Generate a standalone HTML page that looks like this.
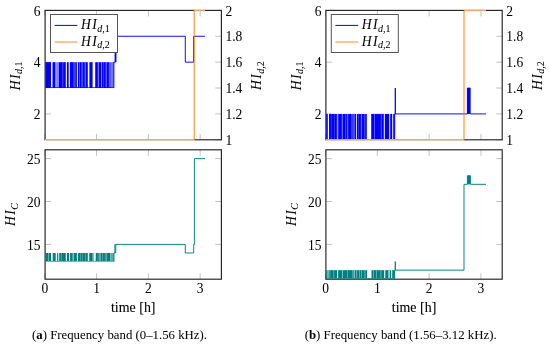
<!DOCTYPE html>
<html><head><meta charset="utf-8"><title>figure</title>
<style>
html,body{margin:0;padding:0;background:#fff;width:550px;height:345px;overflow:hidden;}
svg{display:block;}

text{font-family:"Liberation Serif",serif;fill:#000;stroke:#000;stroke-width:0.02px;}
.t{font-size:13.5px;}
.m{font-size:13.6px;font-style:italic;stroke-width:0.04px;}
.s{font-size:10px;}
.r{font-style:normal;}
.c{font-size:12.5px;stroke-width:0.02px;}
</style></head>
<body>
<div id="w"><svg width="550" height="345" viewBox="0 0 550 345">
<rect width="550" height="345" fill="#fff"/>
<line x1="44.75" y1="139.80" x2="44.75" y2="133.80" stroke="#000" stroke-width="0.45" stroke-opacity="0.55"/><line x1="44.75" y1="10.40" x2="44.75" y2="16.40" stroke="#000" stroke-width="0.45" stroke-opacity="0.55"/><line x1="96.55" y1="139.80" x2="96.55" y2="133.80" stroke="#000" stroke-width="0.45" stroke-opacity="0.55"/><line x1="96.55" y1="10.40" x2="96.55" y2="16.40" stroke="#000" stroke-width="0.45" stroke-opacity="0.55"/><line x1="148.35" y1="139.80" x2="148.35" y2="133.80" stroke="#000" stroke-width="0.45" stroke-opacity="0.55"/><line x1="148.35" y1="10.40" x2="148.35" y2="16.40" stroke="#000" stroke-width="0.45" stroke-opacity="0.55"/><line x1="200.15" y1="139.80" x2="200.15" y2="133.80" stroke="#000" stroke-width="0.45" stroke-opacity="0.55"/><line x1="200.15" y1="10.40" x2="200.15" y2="16.40" stroke="#000" stroke-width="0.45" stroke-opacity="0.55"/><line x1="45.10" y1="113.92" x2="51.10" y2="113.92" stroke="#000" stroke-width="0.45" stroke-opacity="0.55"/><line x1="45.10" y1="62.16" x2="51.10" y2="62.16" stroke="#000" stroke-width="0.45" stroke-opacity="0.55"/><line x1="45.10" y1="10.40" x2="51.10" y2="10.40" stroke="#000" stroke-width="0.45" stroke-opacity="0.55"/><line x1="221.40" y1="139.80" x2="215.40" y2="139.80" stroke="#000" stroke-width="0.45" stroke-opacity="0.55"/><line x1="221.40" y1="113.92" x2="215.40" y2="113.92" stroke="#000" stroke-width="0.45" stroke-opacity="0.55"/><line x1="221.40" y1="88.04" x2="215.40" y2="88.04" stroke="#000" stroke-width="0.45" stroke-opacity="0.55"/><line x1="221.40" y1="62.16" x2="215.40" y2="62.16" stroke="#000" stroke-width="0.45" stroke-opacity="0.55"/><line x1="221.40" y1="36.28" x2="215.40" y2="36.28" stroke="#000" stroke-width="0.45" stroke-opacity="0.55"/><line x1="221.40" y1="10.40" x2="215.40" y2="10.40" stroke="#000" stroke-width="0.45" stroke-opacity="0.55"/><line x1="44.75" y1="279.20" x2="44.75" y2="273.20" stroke="#000" stroke-width="0.45" stroke-opacity="0.55"/><line x1="44.75" y1="149.80" x2="44.75" y2="155.80" stroke="#000" stroke-width="0.45" stroke-opacity="0.55"/><line x1="96.55" y1="279.20" x2="96.55" y2="273.20" stroke="#000" stroke-width="0.45" stroke-opacity="0.55"/><line x1="96.55" y1="149.80" x2="96.55" y2="155.80" stroke="#000" stroke-width="0.45" stroke-opacity="0.55"/><line x1="148.35" y1="279.20" x2="148.35" y2="273.20" stroke="#000" stroke-width="0.45" stroke-opacity="0.55"/><line x1="148.35" y1="149.80" x2="148.35" y2="155.80" stroke="#000" stroke-width="0.45" stroke-opacity="0.55"/><line x1="200.15" y1="279.20" x2="200.15" y2="273.20" stroke="#000" stroke-width="0.45" stroke-opacity="0.55"/><line x1="200.15" y1="149.80" x2="200.15" y2="155.80" stroke="#000" stroke-width="0.45" stroke-opacity="0.55"/><line x1="45.10" y1="244.40" x2="51.10" y2="244.40" stroke="#000" stroke-width="0.45" stroke-opacity="0.55"/><line x1="221.40" y1="244.40" x2="215.40" y2="244.40" stroke="#000" stroke-width="0.45" stroke-opacity="0.55"/><line x1="45.10" y1="201.50" x2="51.10" y2="201.50" stroke="#000" stroke-width="0.45" stroke-opacity="0.55"/><line x1="221.40" y1="201.50" x2="215.40" y2="201.50" stroke="#000" stroke-width="0.45" stroke-opacity="0.55"/><line x1="45.10" y1="158.60" x2="51.10" y2="158.60" stroke="#000" stroke-width="0.45" stroke-opacity="0.55"/><line x1="221.40" y1="158.60" x2="215.40" y2="158.60" stroke="#000" stroke-width="0.45" stroke-opacity="0.55"/><rect x="45.10" y="10.40" width="176.30" height="129.40" fill="none" stroke="#222" stroke-width="1.15"/><rect x="45.10" y="149.80" width="176.30" height="129.40" fill="none" stroke="#222" stroke-width="1.15"/><rect x="45.40" y="62.16" width="68.50" height="25.88" fill="#0000ff" /><rect x="51.00" y="61.56" width="1.50" height="25.78" fill="#fff" fill-opacity="1"/><rect x="55.50" y="61.56" width="1.10" height="25.78" fill="#fff" fill-opacity="1"/><rect x="57.50" y="61.56" width="1.00" height="25.78" fill="#fff" fill-opacity="1"/><rect x="62.30" y="61.56" width="1.00" height="25.78" fill="#fff" fill-opacity="0.3"/><rect x="65.80" y="61.56" width="1.10" height="25.78" fill="#fff" fill-opacity="1"/><rect x="68.70" y="61.56" width="1.20" height="25.78" fill="#fff" fill-opacity="1"/><rect x="73.20" y="61.56" width="2.60" height="25.78" fill="#fff" fill-opacity="0.25"/><rect x="76.90" y="61.56" width="1.00" height="25.78" fill="#fff" fill-opacity="1"/><rect x="79.00" y="61.56" width="0.70" height="25.78" fill="#fff" fill-opacity="0.5"/><rect x="81.60" y="61.56" width="1.00" height="25.78" fill="#fff" fill-opacity="0.5"/><rect x="84.70" y="61.56" width="1.00" height="25.78" fill="#fff" fill-opacity="0.5"/><rect x="87.80" y="61.56" width="1.60" height="25.78" fill="#fff" fill-opacity="1"/><rect x="92.60" y="61.56" width="2.60" height="25.78" fill="#fff" fill-opacity="1"/><rect x="97.80" y="61.56" width="1.10" height="25.78" fill="#fff" fill-opacity="0.5"/><rect x="101.00" y="61.56" width="1.00" height="25.78" fill="#fff" fill-opacity="0.5"/><rect x="103.00" y="61.56" width="0.60" height="25.78" fill="#fff" fill-opacity="0.35"/><rect x="105.70" y="61.56" width="1.00" height="25.78" fill="#fff" fill-opacity="0.5"/><rect x="108.80" y="61.56" width="1.60" height="25.78" fill="#fff" fill-opacity="0.35"/><rect x="110.40" y="61.56" width="3.50" height="25.78" fill="#fff" fill-opacity="0.45"/><rect x="114.2" y="36.28" width="2.6" height="25.88" fill="#0000ff" fill-opacity="0.55"/><path d="M113.9 88.04 V62.16 H115.5 V36.28 H185.3 V62.16 H193.6 V36.28 H204.9" stroke="#0000ff" stroke-width="0.95" fill="none" stroke-linejoin="miter"/><path d="M45.10 139.80 H194.2" stroke="#fff" stroke-width="1.8"/><path d="M45.10 139.80 H194.2" stroke="#e8a870" stroke-width="1.5"/><path d="M194.2 10.40 H205.0" stroke="#fff" stroke-width="1.8"/><path d="M194.2 10.40 H205.0" stroke="#e8a870" stroke-width="1.5"/><path d="M194.2 139.80 V10.40" stroke="#ff8000" stroke-width="0.95" fill="none" stroke-linejoin="miter"/><rect x="45.40" y="252.98" width="68.60" height="8.58" fill="#008080" /><rect x="48.10" y="252.38" width="0.80" height="8.48" fill="#fff" fill-opacity="0.5"/><rect x="51.10" y="252.38" width="1.60" height="8.48" fill="#fff" fill-opacity="1"/><rect x="55.70" y="252.38" width="1.40" height="8.48" fill="#fff" fill-opacity="1"/><rect x="58.30" y="252.38" width="0.90" height="8.48" fill="#fff" fill-opacity="1"/><rect x="60.90" y="252.38" width="0.60" height="8.48" fill="#fff" fill-opacity="0.5"/><rect x="65.80" y="252.38" width="1.10" height="8.48" fill="#fff" fill-opacity="1"/><rect x="69.00" y="252.38" width="1.10" height="8.48" fill="#fff" fill-opacity="1"/><rect x="72.50" y="252.38" width="1.40" height="8.48" fill="#fff" fill-opacity="0.55"/><rect x="76.90" y="252.38" width="1.10" height="8.48" fill="#fff" fill-opacity="1"/><rect x="80.20" y="252.38" width="0.50" height="8.48" fill="#fff" fill-opacity="0.5"/><rect x="82.40" y="252.38" width="0.50" height="8.48" fill="#fff" fill-opacity="0.5"/><rect x="85.10" y="252.38" width="0.50" height="8.48" fill="#fff" fill-opacity="0.5"/><rect x="87.80" y="252.38" width="1.40" height="8.48" fill="#fff" fill-opacity="1"/><rect x="92.50" y="252.38" width="0.50" height="8.48" fill="#fff" fill-opacity="0.5"/><rect x="93.50" y="252.38" width="2.20" height="8.48" fill="#fff" fill-opacity="1"/><rect x="97.80" y="252.38" width="0.50" height="8.48" fill="#fff" fill-opacity="0.5"/><rect x="99.00" y="252.38" width="0.40" height="8.48" fill="#fff" fill-opacity="0.8"/><rect x="99.90" y="252.38" width="0.80" height="8.48" fill="#fff" fill-opacity="0.5"/><rect x="102.30" y="252.38" width="0.50" height="8.48" fill="#fff" fill-opacity="0.6"/><rect x="104.90" y="252.38" width="0.50" height="8.48" fill="#fff" fill-opacity="0.6"/><rect x="106.40" y="252.38" width="0.60" height="8.48" fill="#fff" fill-opacity="0.6"/><rect x="110.10" y="252.38" width="1.00" height="8.48" fill="#fff" fill-opacity="0.5"/><rect x="111.10" y="252.38" width="2.90" height="8.48" fill="#fff" fill-opacity="0.35"/><rect x="114.2" y="244.40" width="2.3" height="8.58" fill="#008080" fill-opacity="0.5"/><path d="M114.0 261.56 V252.98 L115.2 252.98 V244.40 H185.3 V252.98 H193.7 V244.40 H194.4 V158.60 H205.0" stroke="#008080" stroke-width="0.95" fill="none" stroke-linejoin="miter"/><rect x="50.50" y="14.5" width="67.00" height="38.0" fill="#fff" stroke="#555" stroke-width="1.0"/><line x1="54.60" y1="25.4" x2="77.40" y2="25.4" stroke="#0000ff" stroke-width="1.0"/><line x1="54.60" y1="42.0" x2="77.40" y2="42.0" stroke="#ff8000" stroke-width="1.3" stroke-opacity="0.7"/><text x="81.00" y="29.2" class="m">H<tspan dx="1.3">I</tspan><tspan class="s" dx="0.6" dy="2.4">d</tspan><tspan class="s r">,1</tspan></text><text x="81.00" y="45.5" class="m">H<tspan dx="1.3">I</tspan><tspan class="s" dx="0.6" dy="2.4">d</tspan><tspan class="s r">,2</tspan></text><text transform="translate(40.60 119.02) scale(1 1.12)" text-anchor="end" class="t">2</text><text transform="translate(40.60 67.26) scale(1 1.12)" text-anchor="end" class="t">4</text><text transform="translate(40.60 15.50) scale(1 1.12)" text-anchor="end" class="t">6</text><text transform="translate(225.50 144.90) scale(1 1.12)" text-anchor="start" class="t">1</text><text transform="translate(225.50 119.02) scale(1 1.12)" text-anchor="start" class="t">1.2</text><text transform="translate(225.50 93.14) scale(1 1.12)" text-anchor="start" class="t">1.4</text><text transform="translate(225.50 67.26) scale(1 1.12)" text-anchor="start" class="t">1.6</text><text transform="translate(225.50 41.38) scale(1 1.12)" text-anchor="start" class="t">1.8</text><text transform="translate(225.50 15.50) scale(1 1.12)" text-anchor="start" class="t">2</text><text transform="translate(40.60 249.50) scale(1 1.12)" text-anchor="end" class="t">15</text><text transform="translate(40.60 206.60) scale(1 1.12)" text-anchor="end" class="t">20</text><text transform="translate(40.60 163.70) scale(1 1.12)" text-anchor="end" class="t">25</text><text transform="translate(44.75 293.40) scale(1 1.12)" text-anchor="middle" class="t">0</text><text transform="translate(96.55 293.40) scale(1 1.12)" text-anchor="middle" class="t">1</text><text transform="translate(148.35 293.40) scale(1 1.12)" text-anchor="middle" class="t">2</text><text transform="translate(200.15 293.40) scale(1 1.12)" text-anchor="middle" class="t">3</text><text x="133.25" y="311.7" text-anchor="middle" class="t" style="font-size:13.6px;stroke-width:0.1px" textLength="44.5" lengthAdjust="spacingAndGlyphs">time [h]</text><text transform="translate(19.80,75.80) rotate(-90)" text-anchor="middle" class="m">H<tspan dx="1.3">I</tspan><tspan class="s" dx="0.6" dy="2.4">d</tspan><tspan class="s r">,1</tspan></text><text transform="translate(261.20,75.60) rotate(-90)" text-anchor="middle" class="m">H<tspan dx="1.3">I</tspan><tspan class="s" dx="0.6" dy="2.4">d</tspan><tspan class="s r">,2</tspan></text><text transform="translate(15.20,214.50) rotate(-90)" text-anchor="middle" class="m">H<tspan dx="1.3">I</tspan><tspan class="s" dx="0.6" dy="2.4">C</tspan></text><line x1="325.55" y1="139.80" x2="325.55" y2="133.80" stroke="#000" stroke-width="0.45" stroke-opacity="0.55"/><line x1="325.55" y1="10.40" x2="325.55" y2="16.40" stroke="#000" stroke-width="0.45" stroke-opacity="0.55"/><line x1="377.35" y1="139.80" x2="377.35" y2="133.80" stroke="#000" stroke-width="0.45" stroke-opacity="0.55"/><line x1="377.35" y1="10.40" x2="377.35" y2="16.40" stroke="#000" stroke-width="0.45" stroke-opacity="0.55"/><line x1="429.15" y1="139.80" x2="429.15" y2="133.80" stroke="#000" stroke-width="0.45" stroke-opacity="0.55"/><line x1="429.15" y1="10.40" x2="429.15" y2="16.40" stroke="#000" stroke-width="0.45" stroke-opacity="0.55"/><line x1="480.95" y1="139.80" x2="480.95" y2="133.80" stroke="#000" stroke-width="0.45" stroke-opacity="0.55"/><line x1="480.95" y1="10.40" x2="480.95" y2="16.40" stroke="#000" stroke-width="0.45" stroke-opacity="0.55"/><line x1="325.90" y1="113.92" x2="331.90" y2="113.92" stroke="#000" stroke-width="0.45" stroke-opacity="0.55"/><line x1="325.90" y1="62.16" x2="331.90" y2="62.16" stroke="#000" stroke-width="0.45" stroke-opacity="0.55"/><line x1="325.90" y1="10.40" x2="331.90" y2="10.40" stroke="#000" stroke-width="0.45" stroke-opacity="0.55"/><line x1="502.20" y1="139.80" x2="496.20" y2="139.80" stroke="#000" stroke-width="0.45" stroke-opacity="0.55"/><line x1="502.20" y1="113.92" x2="496.20" y2="113.92" stroke="#000" stroke-width="0.45" stroke-opacity="0.55"/><line x1="502.20" y1="88.04" x2="496.20" y2="88.04" stroke="#000" stroke-width="0.45" stroke-opacity="0.55"/><line x1="502.20" y1="62.16" x2="496.20" y2="62.16" stroke="#000" stroke-width="0.45" stroke-opacity="0.55"/><line x1="502.20" y1="36.28" x2="496.20" y2="36.28" stroke="#000" stroke-width="0.45" stroke-opacity="0.55"/><line x1="502.20" y1="10.40" x2="496.20" y2="10.40" stroke="#000" stroke-width="0.45" stroke-opacity="0.55"/><line x1="325.55" y1="279.20" x2="325.55" y2="273.20" stroke="#000" stroke-width="0.45" stroke-opacity="0.55"/><line x1="325.55" y1="149.80" x2="325.55" y2="155.80" stroke="#000" stroke-width="0.45" stroke-opacity="0.55"/><line x1="377.35" y1="279.20" x2="377.35" y2="273.20" stroke="#000" stroke-width="0.45" stroke-opacity="0.55"/><line x1="377.35" y1="149.80" x2="377.35" y2="155.80" stroke="#000" stroke-width="0.45" stroke-opacity="0.55"/><line x1="429.15" y1="279.20" x2="429.15" y2="273.20" stroke="#000" stroke-width="0.45" stroke-opacity="0.55"/><line x1="429.15" y1="149.80" x2="429.15" y2="155.80" stroke="#000" stroke-width="0.45" stroke-opacity="0.55"/><line x1="480.95" y1="279.20" x2="480.95" y2="273.20" stroke="#000" stroke-width="0.45" stroke-opacity="0.55"/><line x1="480.95" y1="149.80" x2="480.95" y2="155.80" stroke="#000" stroke-width="0.45" stroke-opacity="0.55"/><line x1="325.90" y1="244.40" x2="331.90" y2="244.40" stroke="#000" stroke-width="0.45" stroke-opacity="0.55"/><line x1="502.20" y1="244.40" x2="496.20" y2="244.40" stroke="#000" stroke-width="0.45" stroke-opacity="0.55"/><line x1="325.90" y1="201.50" x2="331.90" y2="201.50" stroke="#000" stroke-width="0.45" stroke-opacity="0.55"/><line x1="502.20" y1="201.50" x2="496.20" y2="201.50" stroke="#000" stroke-width="0.45" stroke-opacity="0.55"/><line x1="325.90" y1="158.60" x2="331.90" y2="158.60" stroke="#000" stroke-width="0.45" stroke-opacity="0.55"/><line x1="502.20" y1="158.60" x2="496.20" y2="158.60" stroke="#000" stroke-width="0.45" stroke-opacity="0.55"/><rect x="325.90" y="10.40" width="176.30" height="129.40" fill="none" stroke="#222" stroke-width="1.15"/><rect x="325.90" y="149.80" width="176.30" height="129.40" fill="none" stroke="#222" stroke-width="1.15"/><rect x="326.20" y="113.92" width="68.50" height="25.88" fill="#0000ff" /><rect x="327.80" y="113.32" width="1.20" height="25.78" fill="#fff" fill-opacity="1"/><rect x="330.90" y="113.32" width="0.50" height="25.78" fill="#fff" fill-opacity="0.35"/><rect x="334.40" y="113.32" width="0.50" height="25.78" fill="#fff" fill-opacity="0.35"/><rect x="336.80" y="113.32" width="1.50" height="25.78" fill="#fff" fill-opacity="0.6"/><rect x="341.80" y="113.32" width="1.00" height="25.78" fill="#fff" fill-opacity="0.5"/><rect x="345.20" y="113.32" width="1.00" height="25.78" fill="#fff" fill-opacity="0.3"/><rect x="347.20" y="113.32" width="1.00" height="25.78" fill="#fff" fill-opacity="0.5"/><rect x="351.20" y="113.32" width="0.90" height="25.78" fill="#fff" fill-opacity="0.3"/><rect x="352.50" y="113.32" width="0.70" height="25.78" fill="#fff" fill-opacity="0.4"/><rect x="353.60" y="113.32" width="1.00" height="25.78" fill="#fff" fill-opacity="0.5"/><rect x="356.00" y="113.32" width="0.90" height="25.78" fill="#fff" fill-opacity="0.9"/><rect x="358.40" y="113.32" width="0.50" height="25.78" fill="#fff" fill-opacity="0.35"/><rect x="360.90" y="113.32" width="1.00" height="25.78" fill="#fff" fill-opacity="0.5"/><rect x="364.30" y="113.32" width="1.00" height="25.78" fill="#fff" fill-opacity="0.35"/><rect x="366.80" y="113.32" width="4.40" height="25.78" fill="#fff" fill-opacity="1"/><rect x="374.10" y="113.32" width="0.90" height="25.78" fill="#fff" fill-opacity="0.35"/><rect x="380.80" y="113.32" width="0.90" height="25.78" fill="#fff" fill-opacity="0.35"/><rect x="383.80" y="113.32" width="1.00" height="25.78" fill="#fff" fill-opacity="1"/><rect x="389.20" y="113.32" width="1.00" height="25.78" fill="#fff" fill-opacity="1"/><rect x="392.20" y="113.32" width="1.00" height="25.78" fill="#fff" fill-opacity="1"/><path d="M394.7 139.80 V113.92 H395.3 V88.04 V113.92 H467.4 V88.04 H470.2 V113.92 H486.1" stroke="#0000ff" stroke-width="0.95" fill="none" stroke-linejoin="miter"/><rect x="467.2" y="88.04" width="2.8" height="25.88" fill="#0000ff"/><path d="M325.90 139.80 H464.0" stroke="#fff" stroke-width="1.8"/><path d="M325.90 139.80 H464.0" stroke="#e8a870" stroke-width="1.5"/><path d="M464.0 10.40 H485.6" stroke="#fff" stroke-width="1.8"/><path d="M464.0 10.40 H485.6" stroke="#e8a870" stroke-width="1.5"/><path d="M464.0 139.80 V10.40" stroke="#ff8000" stroke-width="0.95" fill="none" stroke-linejoin="miter"/><rect x="326.20" y="270.14" width="68.50" height="8.58" fill="#008080" /><rect x="327.60" y="269.54" width="0.80" height="8.48" fill="#fff" fill-opacity="1"/><rect x="329.60" y="269.54" width="0.60" height="8.48" fill="#fff" fill-opacity="0.5"/><rect x="333.50" y="269.54" width="0.70" height="8.48" fill="#fff" fill-opacity="0.5"/><rect x="337.10" y="269.54" width="1.00" height="8.48" fill="#fff" fill-opacity="1"/><rect x="342.00" y="269.54" width="1.00" height="8.48" fill="#fff" fill-opacity="0.5"/><rect x="347.30" y="269.54" width="0.60" height="8.48" fill="#fff" fill-opacity="0.5"/><rect x="352.50" y="269.54" width="0.60" height="8.48" fill="#fff" fill-opacity="0.5"/><rect x="353.80" y="269.54" width="0.70" height="8.48" fill="#fff" fill-opacity="1"/><rect x="356.40" y="269.54" width="0.70" height="8.48" fill="#fff" fill-opacity="0.6"/><rect x="359.10" y="269.54" width="0.70" height="8.48" fill="#fff" fill-opacity="0.5"/><rect x="361.30" y="269.54" width="0.70" height="8.48" fill="#fff" fill-opacity="0.5"/><rect x="364.50" y="269.54" width="0.80" height="8.48" fill="#fff" fill-opacity="0.5"/><rect x="367.10" y="269.54" width="4.40" height="8.48" fill="#fff" fill-opacity="1"/><rect x="373.30" y="269.54" width="0.70" height="8.48" fill="#fff" fill-opacity="0.5"/><rect x="376.20" y="269.54" width="0.70" height="8.48" fill="#fff" fill-opacity="0.5"/><rect x="380.50" y="269.54" width="0.80" height="8.48" fill="#fff" fill-opacity="0.5"/><rect x="384.20" y="269.54" width="1.10" height="8.48" fill="#fff" fill-opacity="1"/><rect x="388.50" y="269.54" width="1.10" height="8.48" fill="#fff" fill-opacity="1"/><rect x="391.10" y="269.54" width="1.10" height="8.48" fill="#fff" fill-opacity="1"/><path d="M394.7 278.72 V270.14 H395.3 V261.56 V270.14 H464.0 V184.34 H467.4 V175.76 H470.6 V184.34 H486.0" stroke="#008080" stroke-width="0.95" fill="none" stroke-linejoin="miter"/><rect x="467.2" y="175.76" width="2.9" height="8.58" fill="#008080"/><rect x="331.30" y="14.5" width="67.00" height="38.0" fill="#fff" stroke="#555" stroke-width="1.0"/><line x1="335.40" y1="25.4" x2="358.20" y2="25.4" stroke="#0000ff" stroke-width="1.0"/><line x1="335.40" y1="42.0" x2="358.20" y2="42.0" stroke="#ff8000" stroke-width="1.3" stroke-opacity="0.7"/><text x="361.80" y="29.2" class="m">H<tspan dx="1.3">I</tspan><tspan class="s" dx="0.6" dy="2.4">d</tspan><tspan class="s r">,1</tspan></text><text x="361.80" y="45.5" class="m">H<tspan dx="1.3">I</tspan><tspan class="s" dx="0.6" dy="2.4">d</tspan><tspan class="s r">,2</tspan></text><text transform="translate(321.40 119.02) scale(1 1.12)" text-anchor="end" class="t">2</text><text transform="translate(321.40 67.26) scale(1 1.12)" text-anchor="end" class="t">4</text><text transform="translate(321.40 15.50) scale(1 1.12)" text-anchor="end" class="t">6</text><text transform="translate(506.30 144.90) scale(1 1.12)" text-anchor="start" class="t">1</text><text transform="translate(506.30 119.02) scale(1 1.12)" text-anchor="start" class="t">1.2</text><text transform="translate(506.30 93.14) scale(1 1.12)" text-anchor="start" class="t">1.4</text><text transform="translate(506.30 67.26) scale(1 1.12)" text-anchor="start" class="t">1.6</text><text transform="translate(506.30 41.38) scale(1 1.12)" text-anchor="start" class="t">1.8</text><text transform="translate(506.30 15.50) scale(1 1.12)" text-anchor="start" class="t">2</text><text transform="translate(321.40 249.50) scale(1 1.12)" text-anchor="end" class="t">15</text><text transform="translate(321.40 206.60) scale(1 1.12)" text-anchor="end" class="t">20</text><text transform="translate(321.40 163.70) scale(1 1.12)" text-anchor="end" class="t">25</text><text transform="translate(325.55 293.40) scale(1 1.12)" text-anchor="middle" class="t">0</text><text transform="translate(377.35 293.40) scale(1 1.12)" text-anchor="middle" class="t">1</text><text transform="translate(429.15 293.40) scale(1 1.12)" text-anchor="middle" class="t">2</text><text transform="translate(480.95 293.40) scale(1 1.12)" text-anchor="middle" class="t">3</text><text x="414.05" y="311.7" text-anchor="middle" class="t" style="font-size:13.6px;stroke-width:0.1px" textLength="44.5" lengthAdjust="spacingAndGlyphs">time [h]</text><text transform="translate(300.60,75.80) rotate(-90)" text-anchor="middle" class="m">H<tspan dx="1.3">I</tspan><tspan class="s" dx="0.6" dy="2.4">d</tspan><tspan class="s r">,1</tspan></text><text transform="translate(542.00,75.60) rotate(-90)" text-anchor="middle" class="m">H<tspan dx="1.3">I</tspan><tspan class="s" dx="0.6" dy="2.4">d</tspan><tspan class="s r">,2</tspan></text><text transform="translate(296.00,214.50) rotate(-90)" text-anchor="middle" class="m">H<tspan dx="1.3">I</tspan><tspan class="s" dx="0.6" dy="2.4">C</tspan></text>
<text x="32.0" y="339.0" class="c" textLength="175" lengthAdjust="spacingAndGlyphs">(<tspan font-weight="bold">a</tspan>) Frequency band (0–1.56 kHz).</text><text x="304.7" y="339.0" class="c" textLength="192" lengthAdjust="spacingAndGlyphs">(<tspan font-weight="bold">b</tspan>) Frequency band (1.56–3.12 kHz).</text>
</svg></div>
</body></html>
